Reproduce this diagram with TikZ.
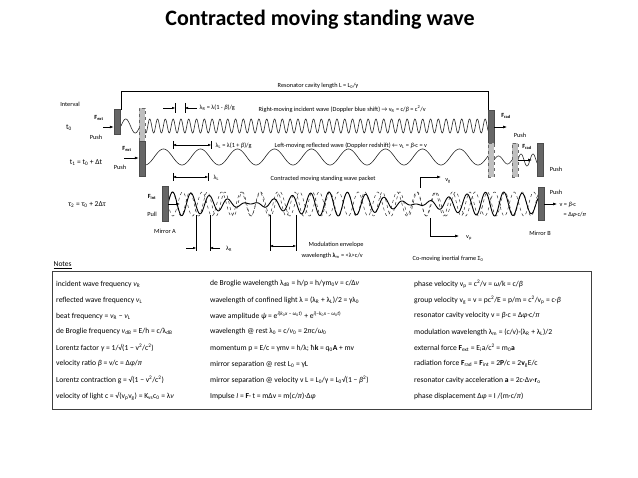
\documentclass[tikz,border=0pt]{standalone}
\usepackage{fontspec}
\setmainfont{Carlito}
\usetikzlibrary{arrows.meta}
\newcommand\sbs[1]{\textsubscript{#1}}
\newcommand\sps[1]{\textsuperscript{#1}}
\tikzset{
 lbl/.style={font=\fontsize{6.3}{7}\selectfont,inner sep=0.5pt},
 blbl/.style={font=\fontsize{6.3}{7}\selectfont\bfseries,inner sep=0.5pt},
 note/.style={font=\fontsize{7.6}{8.5}\selectfont,anchor=west,inner sep=0pt},
 mirror/.style={draw=black!70,fill=black!60,line width=0.5pt},
 ghost/.style={draw=black!60,fill=black!25,dashed,line width=0.5pt},
 wave/.style={line width=0.6pt,black!85},
 dim/.style={-{Latex[length=3pt,width=2.5pt]},line width=0.4pt},
 ar/.style={-{Latex[length=4pt,width=3pt]},line width=0.6pt},
}
\begin{document}
\begin{tikzpicture}[x=1pt,y=-1pt]
\useasboundingbox (0,0) rectangle (638,478);
\node[font=\fontsize{22}{24}\selectfont\bfseries] (title) at (320,20) {Contracted moving standing wave};
% cavity bracket
\coordinate (c1) at (121,110); \coordinate (c2) at (488,110);
\draw[line width=0.5pt] (c1) -- (121,91) -- (488,91) -- (c2);
\node[lbl] (cav) at (318,86) {Resonator cavity length  L = L\sbs{0}/γ};
\node[lbl] (int) at (70,104) {Interval};
\node[lbl,font=\fontsize{7.5}{8}\selectfont] (t0) at (69,128) {t\sbs{0}};
\node[lbl,font=\fontsize{7.5}{8}\selectfont] (t1) at (86,163) {t\sbs{1} = t\sbs{0} + Δt};
\node[lbl,font=\fontsize{7.5}{8}\selectfont] (t2) at (87,205) {τ\sbs{2} = τ\sbs{0} + 2Δτ};
% row 1
\draw[wave] plot[domain=121:140,samples=40] (\x,{126-7*sin(360*(\x-121)/19)});
\draw[wave] plot[domain=140:488,samples=900] (\x,{126-7*sin(360*mod(\x-140,7.8)/7.8)});
\node[ghost,minimum width=6pt,minimum height=36pt,inner sep=0] (ga) at (142,126) {};
\node[mirror,minimum width=6pt,minimum height=25pt,inner sep=0] (ma1) at (117,122) {};
\node[mirror,minimum width=6pt,minimum height=33pt,inner sep=0] (mb1) at (491,127) {};
\coordinate (fe1) at (103,127);
\draw[ar] (fe1) -- (ma1.west|-fe1);
\node[blbl] at (99,118) {F\sbs{ext}};
\node[lbl] at (96,137) {Push};
\coordinate (fr1) at (507,127);
\draw[ar] (mb1.east|-fr1) -- (fr1);
\node[blbl] at (506,116) {F\sbs{rad}};
\node[lbl] at (520,135) {Push};
% lambda R dimension
\draw[line width=0.4pt] (175,103)--(175,113) (185,103)--(185,113);
\draw[dim] (163,108) -- (175,108);
\draw[dim] (197,108) -- (185,108);
\node[lbl,anchor=west] at (199,108) {λ\sbs{R} = λ(1 - \textit{β})/g};
\node[lbl,anchor=west] at (258,109) {Right-moving incident wave (Doppler blue shift)  →  v\sbs{R} = c/\textit{β} = c\sps{2}/v};
% row 2
\draw[wave] plot[domain=145:488,samples=500] (\x,{157+8*cos(360*mod(\x-145,37)/37)});
\draw[wave] plot[domain=494:512,samples=40] (\x,{160-4*sin(360*(\x-494)/18)});
\draw[wave] plot[domain=518:537,samples=40] (\x,{160-6*sin(360*(\x-518)/12)});
\node[mirror,minimum width=6pt,minimum height=35pt,inner sep=0] (ma2) at (142,159) {};
\node[ghost,minimum width=6pt,minimum height=34pt,inner sep=0] (gb1) at (491,160) {};
\node[ghost,minimum width=6pt,minimum height=34pt,inner sep=0] (gb2) at (515,160) {};
\node[mirror,minimum width=6pt,minimum height=33pt,inner sep=0] (mb2) at (540,160) {};
\coordinate (fe2) at (124,158);
\draw[ar] (fe2) -- (ma2.west|-fe2);
\node[blbl] at (127,149) {F\sbs{ext}};
\node[lbl] at (120,167) {Push};
\coordinate (fr2) at (532,160);
\draw[ar] (gb2.east|-fr2) -- (fr2);
\node[blbl] at (527,147) {F\sbs{rad}};
\node[lbl] at (556,169) {Push};
% lambda L dimension
\draw[line width=0.4pt] (173,141)--(173,149) (211,141)--(211,149);
\draw[dim] (192,145) -- (173,145);
\draw[dim] (192,145) -- (211,145);
\node[lbl,anchor=west] at (215,146) {λ\sbs{L} = λ(1 + \textit{β})/g};
\node[lbl,anchor=west] at (274,146) {Left-moving reflected wave (Doppler redshift)  ←  v\sbs{L} = \textit{β}·c = v};
% row 3
\draw[black!80,dashed,line width=0.5pt] plot[domain=168:538,samples=700] (\x,{204-12*sin(360*mod(\x-168,17.5)/17.5)});
\draw[black!80,dashed,line width=0.5pt] plot[domain=168:538,samples=700] (\x,{204+12*sin(360*mod(\x-168,19.5)/19.5)});
\draw[black,line width=0.9pt] plot[domain=168:538,samples=800] (\x,{204-12*sin(360*mod(\x-168,18.4)/18.4)*cos(180*(mod(\x-168,330)/165))});
\node[mirror,minimum width=6pt,minimum height=35pt,inner sep=0] (ma3) at (165,204) {};
\node[mirror,minimum width=6pt,minimum height=33pt,inner sep=0] (mb3) at (541,204) {};
\coordinate (fi) at (180,204);
\draw[ar] (ma3.east|-fi) -- (fi);
\node[blbl] at (152,197) {F\sbs{int}};
\node[lbl] at (152,214) {Pull};
\node[lbl] at (165,231) {Mirror A};
\node[lbl] at (540,233) {Mirror B};
\coordinate (vv) at (557,204);
\draw[ar] (mb3.east|-vv) -- (vv);
\node[lbl] at (556,192) {Push};
\node[lbl,anchor=west] at (559,205) {v = \textit{β}·c};
\node[lbl,anchor=west] at (563,215) {= Δ\textit{φ}·c/\textit{π}};
% lambda L row 3
\draw[line width=0.4pt] (173,173)--(173,181) (208,173)--(208,181);
\draw[dim] (190,177) -- (173,177);
\draw[dim] (190,177) -- (208,177);
\node[lbl,anchor=west] at (213,178) {λ\sbs{L}};
\node[lbl,anchor=west] at (270,179) {Contracted moving standing wave packet};
% vg vp
\coordinate (vg) at (441,177); \coordinate (vp) at (459,236);
\draw[ar] (420,188) -- (420,177) -- (vg);
\node[lbl] at (448,181) {v\sbs{g}};
\draw[ar] (430,218) -- (430,236) -- (vp);
\node[lbl] at (469,238) {v\sbs{p}};
% lambda R below
\draw[line width=0.4pt] (196,215)--(196,251) (210,215)--(210,251);
\draw[dim] (186,248) -- (196,248);
\draw[dim] (220,248) -- (210,248);
\node[lbl] at (229,249) {λ\sbs{R}};
\draw[line width=0.4pt] (270,215)--(270,251) (296,215)--(296,251);
\draw[dim] (283,246) -- (270,246);
\draw[dim] (283,246) -- (296,246);
\node[lbl,anchor=west] at (308,245) {Modulation envelope};
\node[lbl,anchor=west] at (301,256) {wavelength \textbf{λ}\sbs{m} = <λ>c/v};
\node[lbl,anchor=west] at (412,259) {Co-moving inertial frame  Σ\sbs{0}};
% notes
\node[lbl,font=\fontsize{7.5}{8}\selectfont,anchor=west] (notes) at (53,265) {\underline{Notes}};
\draw[line width=1pt,black!75] (52,272) rectangle (591,410);
\foreach \i/\t in {
 0/{incident wave frequency  \textit{ν}\sbs{R}},
 1/{reflected wave frequency  \textit{ν}\sbs{L}},
 2/{beat frequency = \textit{ν}\sbs{R} − \textit{ν}\sbs{L}},
 3/{de Broglie frequency  \textit{ν}\sbs{dB} = E/h = c/λ\sbs{dB}},
 4/{Lorentz factor  \textit{γ} = 1/√(1 − v\sps{2}/c\sps{2})},
 5/{velocity ratio  \textit{β} = v/c = Δ\textit{φ}/\textit{π}},
 6/{Lorentz  contraction  g = √(1 − v\sps{2}/c\sps{2})},
 7/{velocity of light c = √(v\sbs{p}v\sbs{g}) = K\sbs{vs}c\sbs{0} = λ\textit{ν}}}
 \node[note] at (56,{284+16*\i}) {\t};
\foreach \i/\t in {
 0/{de Broglie wavelength  λ\sbs{dB} = h/p = h/γm\sbs{0}\textit{v} = c/Δ\textit{ν}},
 1/{wavelength of confined light  λ = (λ\sbs{R} + λ\sbs{L})/2 = γλ\sbs{0}},
 2/{wave amplitude  \textit{ψ} = e\sps{\textit{i}(\textit{k}\sbs{0}\textit{x} − \textit{ω}\sbs{0}\textit{t})}  + e\sps{\textit{i}(−\textit{k}\sbs{0}\textit{x} − \textit{ω}\sbs{0}\textit{t})}},
 3/{wavelength @ rest  λ\sbs{0} = c/\textit{ν}\sbs{0} = 2\textit{π}c/\textit{ω}\sbs{0}},
 4/{momentum  p = E/c  = γmv = h/λ;  ħ\textbf{k} = q\sbs{0}\textbf{A} + mv},
 5/{mirror separation @ rest  L\sbs{0} = γL},
 6/{mirror separation @ velocity  v  L = L\sbs{0}/γ = L\sbs{0}√(1 − \textit{β}\sps{2})},
 7/{Impulse  \textit{I}  = \textbf{F}· t = mΔv = m(c/\textit{π})·Δ\textit{φ}}}
 \node[note] at (210,{284+16*\i}) {\t};
\foreach \i/\t in {
 0/{phase  velocity  v\sbs{p} = c\sps{2}/v = \textit{ω}/k = c/\textit{β}},
 1/{group velocity  v\sbs{g} = v = pc\sps{2}/E = p/m = c\sps{2}/v\sbs{p} = c·\textit{β}},
 2/{resonator cavity velocity  v = \textit{β}·c = Δ\textit{φ}·c/\textit{π}},
 3/{modulation  wavelength  λ\sbs{m} = (c/v)·(λ\sbs{R} + λ\sbs{L})/2},
 4/{external force  \textbf{F}\sbs{ext} = E\sbs{i}a/c\sps{2} = m\sbs{0}\textbf{a}},
 5/{radiation force  \textbf{F}\sbs{rad} = \textbf{F}\sbs{int} = 2\textbf{P}/c = 2\textbf{v}\sbs{g}E/c},
 6/{resonator cavity acceleration  \textbf{a} = 2c·Δ\textit{ν}·\textbf{r}\sbs{o}},
 7/{phase displacement  Δ\textit{φ} = I /(m·c/\textit{π})}}
 \node[note] at (414,{284+16*\i}) {\t};
\end{tikzpicture}
\end{document}
